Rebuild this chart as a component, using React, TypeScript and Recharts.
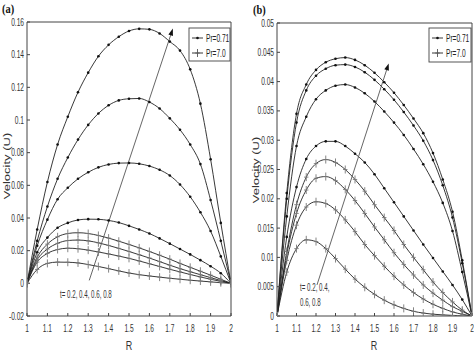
import React from 'react';
import { LineChart, Line, XAxis, YAxis, ReferenceLine } from 'recharts';

const R_VALUES = [1, 1.05, 1.1, 1.15, 1.2, 1.25, 1.3, 1.35, 1.4, 1.45, 1.5, 1.55, 1.6, 1.65, 1.7, 1.75, 1.8, 1.85, 1.9, 1.95, 2];

// panel (a), Pr = 0.71
const A_PR071_T02 = [0, 0.019, 0.028, 0.034, 0.037, 0.0388, 0.0393, 0.0392, 0.0385, 0.0372, 0.0352, 0.033, 0.0305, 0.0275, 0.0243, 0.021, 0.0177, 0.0142, 0.0105, 0.0062, 0];
const A_PR071_T04 = [0, 0.023, 0.039, 0.0515, 0.0585, 0.064, 0.068, 0.071, 0.0728, 0.0736, 0.0737, 0.0732, 0.0718, 0.0695, 0.066, 0.0605, 0.053, 0.0435, 0.032, 0.0165, 0];
const A_PR071_T06 = [0, 0.026, 0.047, 0.064, 0.077, 0.088, 0.097, 0.104, 0.109, 0.112, 0.113, 0.1132, 0.111, 0.107, 0.101, 0.094, 0.085, 0.073, 0.051, 0.026, 0];
const A_PR071_T08 = [0, 0.033, 0.062, 0.085, 0.102, 0.117, 0.129, 0.139, 0.146, 0.151, 0.1545, 0.1558, 0.1555, 0.153, 0.148, 0.1425, 0.131, 0.11, 0.076, 0.037, 0];
// panel (a), Pr = 7.0
const A_PR7_T02 = [0, 0.0085, 0.0122, 0.013, 0.0129, 0.0125, 0.0115, 0.0103, 0.009, 0.0076, 0.0063, 0.0053, 0.0045, 0.0038, 0.0031, 0.0025, 0.0019, 0.0014, 0.0009, 0.0004, 0];
const A_PR7_T04 = [0, 0.013, 0.0183, 0.0207, 0.0215, 0.0212, 0.0203, 0.0192, 0.018, 0.0167, 0.0153, 0.0137, 0.012, 0.0103, 0.0086, 0.007, 0.0054, 0.0039, 0.0025, 0.0012, 0];
const A_PR7_T06 = [0, 0.0145, 0.021, 0.0245, 0.0262, 0.0265, 0.026, 0.0248, 0.0232, 0.0214, 0.0195, 0.0175, 0.0155, 0.0133, 0.0111, 0.009, 0.0071, 0.0053, 0.0035, 0.0017, 0];
const A_PR7_T08 = [0, 0.016, 0.024, 0.0285, 0.0305, 0.031, 0.0305, 0.0293, 0.0277, 0.0258, 0.0238, 0.0217, 0.0195, 0.0172, 0.0148, 0.0122, 0.0098, 0.0074, 0.005, 0.0025, 0];

// panel (b), Pr = 0.71
const B_PR071_T02 = [0, 0.0135, 0.022, 0.0268, 0.029, 0.0298, 0.0298, 0.029, 0.0277, 0.0262, 0.0242, 0.0218, 0.0194, 0.017, 0.0146, 0.0122, 0.0099, 0.0076, 0.0053, 0.0028, 0];
const B_PR071_T04 = [0, 0.017, 0.029, 0.034, 0.037, 0.0385, 0.0393, 0.0395, 0.039, 0.038, 0.0366, 0.0349, 0.033, 0.0309, 0.0285, 0.0259, 0.0229, 0.0193, 0.0145, 0.0075, 0];
const B_PR071_T06 = [0, 0.02, 0.033, 0.0385, 0.041, 0.0422, 0.0428, 0.0429, 0.0425, 0.0416, 0.0403, 0.0387, 0.0369, 0.0348, 0.0325, 0.0299, 0.0266, 0.0223, 0.0168, 0.009, 0];
const B_PR071_T08 = [0, 0.021, 0.0345, 0.0395, 0.042, 0.0433, 0.0439, 0.0441, 0.0437, 0.0428, 0.0415, 0.0399, 0.0381, 0.036, 0.0337, 0.0312, 0.0278, 0.0233, 0.0178, 0.0095, 0];
// panel (b), Pr = 7.0
const B_PR7_T02 = [0, 0.0075, 0.0115, 0.013, 0.0127, 0.0115, 0.0098, 0.008, 0.0063, 0.0049, 0.0037, 0.0027, 0.0019, 0.0013, 0.0008, 0.0005, 0.0003, 0.0002, 0.0001, 0, 0];
const B_PR7_T04 = [0, 0.0095, 0.0155, 0.0186, 0.0195, 0.0192, 0.0181, 0.0164, 0.0144, 0.0122, 0.0103, 0.0085, 0.0068, 0.0053, 0.004, 0.0029, 0.002, 0.0013, 0.0007, 0.0003, 0];
const B_PR7_T06 = [0, 0.0105, 0.0175, 0.0215, 0.0235, 0.0238, 0.0231, 0.0216, 0.0197, 0.0175, 0.0152, 0.013, 0.0108, 0.0088, 0.007, 0.0053, 0.0039, 0.0027, 0.0016, 0.0008, 0];
const B_PR7_T08 = [0, 0.011, 0.019, 0.0237, 0.026, 0.0267, 0.0262, 0.025, 0.0233, 0.0213, 0.019, 0.0168, 0.0146, 0.0122, 0.01, 0.0079, 0.0058, 0.004, 0.0024, 0.001, 0];

const X_TICKS = [1, 1.1, 1.2, 1.3, 1.4, 1.5, 1.6, 1.7, 1.8, 1.9, 2];
const Y_TICKS_A = [-0.02, 0, 0.02, 0.04, 0.06, 0.08, 0.1, 0.12, 0.14, 0.16];
const Y_TICKS_B = [0, 0.005, 0.01, 0.015, 0.02, 0.025, 0.03, 0.035, 0.04, 0.045, 0.05];
const LEGEND_LABELS = ['Pr=0.71', 'Pr=7.0'];
const NOTE_A = ['t= 0.2, 0.4, 0.6, 0.8'];
const NOTE_B = ['t= 0.2, 0.4,', '0.6, 0.8'];
const Y_LABEL = 'Velocity (U)';
const X_LABEL = 'R';

// arrow ends in data units: [R start, U start, R end, U end]
const ARROW_A = [1.305, 0.0018, 1.715, 0.156];
const ARROW_B = [1.205, 0.0053, 1.573, 0.0431];

const FONT = '"Liberation Sans", Arial, sans-serif';
const SQUEEZE = 0.66;

type Series = { key: string; values: number[]; pr: '0.71' | '7.0' };

const SERIES_A: Series[] = [
    { key: 'p071t02', values: A_PR071_T02, pr: '0.71' },
    { key: 'p071t04', values: A_PR071_T04, pr: '0.71' },
    { key: 'p071t06', values: A_PR071_T06, pr: '0.71' },
    { key: 'p071t08', values: A_PR071_T08, pr: '0.71' },
    { key: 'p7t02', values: A_PR7_T02, pr: '7.0' },
    { key: 'p7t04', values: A_PR7_T04, pr: '7.0' },
    { key: 'p7t06', values: A_PR7_T06, pr: '7.0' },
    { key: 'p7t08', values: A_PR7_T08, pr: '7.0' },
];

const SERIES_B: Series[] = [
    { key: 'p071t02', values: B_PR071_T02, pr: '0.71' },
    { key: 'p071t04', values: B_PR071_T04, pr: '0.71' },
    { key: 'p071t06', values: B_PR071_T06, pr: '0.71' },
    { key: 'p071t08', values: B_PR071_T08, pr: '0.71' },
    { key: 'p7t02', values: B_PR7_T02, pr: '7.0' },
    { key: 'p7t04', values: B_PR7_T04, pr: '7.0' },
    { key: 'p7t06', values: B_PR7_T06, pr: '7.0' },
    { key: 'p7t08', values: B_PR7_T08, pr: '7.0' },
];

const buildRows = (series: Series[]) =>
    R_VALUES.map((r, i) => {
        const row: Record<string, number> = { R: r };
        series.forEach(s => { row[s.key] = s.values[i]; });
        return row;
    });

const fmt = (v: number) => String(Math.round(v * 1000) / 1000);

const XTick = ({ x, y, payload }: any) => (
    <text transform={`translate(${x},${y}) scale(${SQUEEZE},1)`} textAnchor="middle" dy="0.71em"
        fontSize={10} fill="#333" fontFamily={FONT}>{fmt(payload.value)}</text>
);

const YTick = ({ x, y, payload }: any) => (
    <text transform={`translate(${x},${y}) scale(${SQUEEZE},1)`} textAnchor="end" dy="0.35em"
        fontSize={10} fill="#333" fontFamily={FONT}>{fmt(payload.value)}</text>
);

const DotMark = (p: any) => {
    if (p.cx == null || p.cy == null) return <g key={`d-${p.dataKey}-${p.index}`} />;
    return <circle key={`d-${p.dataKey}-${p.index}`} cx={p.cx} cy={p.cy} r={1.3} fill="#111" />;
};

const PlusMark = (p: any) => {
    if (p.cx == null || p.cy == null) return <g key={`p-${p.dataKey}-${p.index}`} />;
    const { cx, cy } = p;
    return (
        <path key={`p-${p.dataKey}-${p.index}`} d={`M${cx - 2.2},${cy}H${cx + 2.2}M${cx},${cy - 4}V${cy + 4}`}
            stroke="#777" strokeWidth={0.9} fill="none" />
    );
};

const Arrow = (p: any) => {
    const x1 = p.x1 ?? p.points?.[0]?.x;
    const y1 = p.y1 ?? p.points?.[0]?.y;
    const x2 = p.x2 ?? p.points?.[1]?.x;
    const y2 = p.y2 ?? p.points?.[1]?.y;
    if ([x1, y1, x2, y2].some(v => v == null || isNaN(v))) return <g />;
    const a = Math.atan2(y2 - y1, x2 - x1);
    const c = Math.cos(a), s = Math.sin(a);
    const bx = x2 - 7 * c, by = y2 - 7 * s;
    return (
        <g>
            <line x1={x1} y1={y1} x2={bx} y2={by} stroke="#555" strokeWidth={0.9} />
            <polygon points={`${x2},${y2} ${bx - 2.4 * s},${by + 2.4 * c} ${bx + 2.4 * s},${by - 2.4 * c}`} fill="#111" />
        </g>
    );
};

interface PanelProps {
    series: Series[];
    yTicks: number[];
    margin: { top: number; right: number; bottom: number; left: number };
    yWidth: number;
    arrow: number[];
}

function Panel({ series, yTicks, margin, yWidth, arrow }: PanelProps) {
    const rows = buildRows(series);
    const dom: [number, number] = [yTicks[0], yTicks[yTicks.length - 1]];
    return (
        <LineChart width={237} height={352} data={rows} margin={margin}>
            <XAxis dataKey="R" type="number" domain={[1, 2]} ticks={X_TICKS} allowDataOverflow
                height={20} tickSize={-3} tickMargin={12} tick={<XTick />}
                stroke="#444" interval={0} />
            <XAxis xAxisId="top" orientation="top" type="number" domain={[1, 2]} ticks={X_TICKS}
                allowDataOverflow height={1} tickSize={-3} tick={false} stroke="#444" interval={0} />
            <YAxis type="number" domain={dom} ticks={yTicks} allowDataOverflow width={yWidth}
                tickSize={-3} tickMargin={6} tick={<YTick />} stroke="#444" interval={0} />
            <YAxis yAxisId="right" orientation="right" type="number" domain={dom} ticks={yTicks}
                allowDataOverflow width={1} tickSize={-3} tick={false} stroke="#444" interval={0} />
            {series.map(s => (
                <Line key={s.key} dataKey={s.key} type="monotone" stroke="#222" strokeWidth={0.9}
                    dot={s.pr === '0.71' ? DotMark : PlusMark} activeDot={false}
                    isAnimationActive={false} />
            ))}
            <ReferenceLine segment={[{ x: arrow[0], y: arrow[1] }, { x: arrow[2], y: arrow[3] }]}
                shape={Arrow} ifOverflow="visible" />
        </LineChart>
    );
}

const LegendBox = ({ x, y, w, h }: { x: number; y: number; w: number; h: number }) => (
    <g>
        <rect x={x} y={y} width={w} height={h} fill="#fff" stroke="#444" strokeWidth={0.9} />
        {LEGEND_LABELS.map((label, i) => {
            const ly = y + 10 + i * 15;
            const lx = x + 3;
            return (
                <g key={label}>
                    <line x1={lx} y1={ly} x2={lx + 11} y2={ly} stroke="#222" strokeWidth={0.9} />
                    {i === 0
                        ? <circle cx={lx + 5.5} cy={ly} r={1.3} fill="#111" />
                        : <path d={`M${lx + 3.3},${ly}H${lx + 7.7}M${lx + 5.5},${ly - 4}V${ly + 4}`} stroke="#555" strokeWidth={0.9} />}
                    <text transform={`translate(${lx + 14},${ly}) scale(${SQUEEZE},1)`} dy="0.35em"
                        fontSize={10} fill="#222" fontFamily={FONT}>{label}</text>
                </g>
            );
        })}
    </g>
);

export default function App() {
    return (
        <div style={{ position: 'absolute', left: 0, top: 0, width: 474, height: 352, background: '#fff', overflow: 'hidden' }}>
            <div style={{ position: 'absolute', left: 0, top: 0 }}>
                <Panel series={SERIES_A} yTicks={Y_TICKS_A} yWidth={25} arrow={ARROW_A}
                    margin={{ top: 21, right: 5, bottom: 16, left: 2 }} />
            </div>
            <div style={{ position: 'absolute', left: 237, top: 0 }}>
                <Panel series={SERIES_B} yTicks={Y_TICKS_B} yWidth={30} arrow={ARROW_B}
                    margin={{ top: 22, right: 1, bottom: 16, left: 10 }} />
            </div>
            <svg width={474} height={352} style={{ position: 'absolute', left: 0, top: 0, pointerEvents: 'none' }}>
                <text transform="translate(2,13) scale(0.8,1)" fontSize={13} fontWeight="bold" fontFamily='"Liberation Serif", serif' fill="#111">(a)</text>
                <text transform="translate(253,14) scale(0.8,1)" fontSize={13} fontWeight="bold" fontFamily='"Liberation Serif", serif' fill="#111">(b)</text>
                <text transform="translate(10,166) rotate(-90) scale(1,0.7)" textAnchor="middle" fontSize={13} fill="#333" fontFamily={FONT}>{Y_LABEL}</text>
                <text transform="translate(259,170) rotate(-90) scale(1,0.7)" textAnchor="middle" fontSize={13} fill="#333" fontFamily={FONT}>{Y_LABEL}</text>
                <text transform="translate(129,350) scale(0.75,1)" textAnchor="middle" fontSize={12} fill="#333" fontFamily={FONT}>{X_LABEL}</text>
                <text transform="translate(374,350) scale(0.75,1)" textAnchor="middle" fontSize={12} fill="#333" fontFamily={FONT}>{X_LABEL}</text>
                {NOTE_A.map((t, i) => (
                    <text key={t} transform={`translate(60,${298 + i * 15}) scale(0.62,1)`} fontSize={10} fill="#333" fontFamily={FONT}>{t}</text>
                ))}
                {NOTE_B.map((t, i) => (
                    <text key={t} transform={`translate(300,${291 + i * 15}) scale(0.62,1)`} fontSize={10} fill="#333" fontFamily={FONT}>{t}</text>
                ))}
                <LegendBox x={189} y={28} w={41} h={33} />
                <LegendBox x={429} y={28} w={42} h={34} />
            </svg>
        </div>
    );
}
